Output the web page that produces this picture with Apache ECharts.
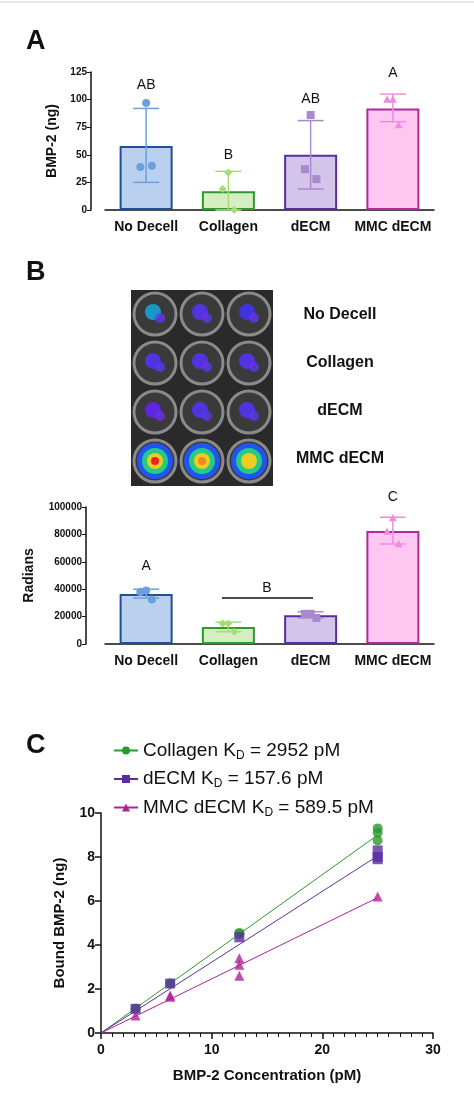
<!DOCTYPE html>
<html><head><meta charset="utf-8">
<script src="https://cdn.jsdelivr.net/npm/echarts@6/dist/echarts.min.js"></script>
<style>html,body{margin:0;background:#fff}#c{width:474px;height:1115px}</style>
</head><body><div id="c"></div>
<script>
const groups = ['No Decell', 'Collagen', 'dECM', 'MMC dECM'];
const fills = ['#b9d1ee', '#d6efc2', '#d3c4e9', '#fdc7f1'];
const borders = ['#1f4f9c', '#2d9a2d', '#5a2f9c', '#b02a9c'];
const dots = ['#6c9fdc', '#a6dc78', '#a98ace', '#f08ae0'];
const dotShapes = ['circle', 'diamond', 'rect', 'triangle'];

// panel A
const aMean = [58, 17, 50, 92];
const aLow = [25, 0, 19, 80];
const aHigh = [92, 35, 81, 105];
const aPts = [[97, 39, 40], [34, 19, 0], [86, 37, 28], [100, 100, 77]];
const aLetters = ['AB', 'B', 'AB', 'A'];
const aLetterY = [113, 50, 100, 124];

// panel B
const bMean = [36500, 12500, 21000, 82500];
const bLow = [33500, 9000, 19000, 73000];
const bHigh = [40000, 16000, 23500, 92500];
const bPts = [[39000, 38000, 32500], [15000, 15000, 9000], [22000, 22000, 19000], [92000, 82000, 73000]];
const bLetters = ['A', '', '', 'C'];
const bLetterY = [57000, 0, 0, 107000];

// point jitter (fraction of category width)
const jitter = [0, -0.07, 0.07];

// panel C
const conc = [3.125, 6.25, 12.5, 25];
const colC = [[1.1], [2.25], [4.55, 4.5], [9.3, 9.1, 8.75]];
const decmC = [[1.1], [2.25], [4.35], [8.3, 8.0, 7.9]];
const mmcC = [[0.8], [1.65, 1.7], [3.4, 3.1, 2.6], [6.2]];
const fitEnd = [9.0, 8.05, 6.15];
const cNames = ['Collagen', 'dECM', 'MMC dECM'];
const cKd = ['2952', '157.6', '589.5'];
const cColors = ['#2a9a2a', '#5b2ea0', '#b0209c'];
const cShapes = ['circle', 'rect', 'triangle'];

const F = 'Liberation Sans, Arial, sans-serif';

function barSet(ai, mean, low, high, pts, letters, letterY) {
  return [
    {
      type: 'bar', xAxisIndex: ai, yAxisIndex: ai, barWidth: 53, z: 2,
      data: mean.map((v, i) => ({ value: v, itemStyle: { color: fills[i], borderColor: borders[i], borderWidth: 2 } }))
    },
    {
      type: 'custom', xAxisIndex: ai, yAxisIndex: ai, z: 5, clip: false,
      data: mean.map((v, i) => [i, low[i], high[i]]),
      renderItem: (p, api) => {
        const i = api.value(0);
        const lo = api.coord([i, api.value(1)]), hi = api.coord([i, api.value(2)]);
        const w = api.size([1, 0])[0];
        const st = { stroke: dots[i], lineWidth: 1.5 };
        const kids = [
          { type: 'line', shape: { x1: lo[0], y1: lo[1], x2: hi[0], y2: hi[1] }, style: st },
          { type: 'line', shape: { x1: lo[0] - 13, y1: lo[1], x2: lo[0] + 13, y2: lo[1] }, style: st },
          { type: 'line', shape: { x1: hi[0] - 13, y1: hi[1], x2: hi[0] + 13, y2: hi[1] }, style: st }
        ];
        pts[i].forEach((v, k) => {
          const c = api.coord([i, v]);
          const x = c[0] + jitter[k] * w, y = c[1], r = 4;
          if (dotShapes[i] === 'circle') kids.push({ type: 'circle', shape: { cx: x, cy: y, r: r }, style: { fill: dots[i] } });
          else if (dotShapes[i] === 'rect') kids.push({ type: 'rect', shape: { x: x - r, y: y - r, width: 2 * r, height: 2 * r }, style: { fill: dots[i] } });
          else if (dotShapes[i] === 'diamond') kids.push({ type: 'polygon', shape: { points: [[x, y - r], [x + r, y], [x, y + r], [x - r, y]] }, style: { fill: dots[i] } });
          else kids.push({ type: 'polygon', shape: { points: [[x, y - r], [x + r, y + r * 0.8], [x - r, y + r * 0.8]] }, style: { fill: dots[i] } });
        });
        if (letters[i]) {
          const t = api.coord([i, letterY[i]]);
          kids.push({ type: 'text', x: t[0], y: t[1], style: { text: letters[i], fontFamily: F, fontSize: 14, fill: '#111', align: 'center', verticalAlign: 'middle' } });
        }
        return { type: 'group', children: kids };
      }
    }
  ];
}

function cSeries(idx, vals) {
  const pts = [];
  vals.forEach((arr, i) => arr.forEach(v => pts.push([conc[i], v])));
  return [
    {
      name: cNames[idx], type: 'line', xAxisIndex: 2, yAxisIndex: 2,
      data: [[0, 0], [25, fitEnd[idx]]], showSymbol: false, symbol: cShapes[idx], symbolSize: 9,
      lineStyle: { color: cColors[idx], width: 1 }, itemStyle: { color: cColors[idx] }, z: 3
    },
    {
      type: 'scatter', xAxisIndex: 2, yAxisIndex: 2, data: pts, symbol: cShapes[idx], symbolSize: 10,
      itemStyle: { color: cColors[idx] }, z: 4
    }
  ];
}

const catX = (ai) => ({
  type: 'category', gridIndex: ai, data: groups,
  axisLine: { lineStyle: { color: '#111', width: 1.5 } }, axisTick: { show: false },
  axisLabel: { interval: 0, fontFamily: F, fontWeight: 'bold', fontSize: 14, color: '#111', margin: 10 }
});
const valY = (ai, max, iv, name, off, gap) => ({
  type: 'value', gridIndex: ai, min: 0, max: max, interval: iv, offset: off,
  name: name, nameLocation: 'middle', nameGap: gap,
  nameTextStyle: { fontFamily: F, fontWeight: 'bold', fontSize: 14, color: '#111' },
  axisLine: { show: true, lineStyle: { color: '#111', width: 1.5 } },
  axisTick: { show: true, length: 4, lineStyle: { color: '#111' } },
  splitLine: { show: false },
  axisLabel: { fontFamily: F, fontWeight: 'bold', fontSize: 10, color: '#111', margin: 4, formatter: v => String(v) }
});

// well plate image (panel B)
const wellColors = [
  ['#1ad', '#53f', '#43f'], ['#53f', '#53f', '#53f'], ['#62f', '#53f', '#53f'], ['#e22', '#e82', '#ec2']
];
const plate = [{ type: 'rect', shape: { x: 131, y: 290, width: 142, height: 196 }, style: { fill: '#2a2a2a' } }];
for (let r = 0; r < 4; r++) for (let c = 0; c < 3; c++) {
  const cx = 155 + c * 47, cy = 314 + r * 49;
  plate.push({ type: 'circle', shape: { cx, cy, r: 21 }, style: { fill: '#3a3a3a', stroke: '#8a8a8a', lineWidth: 3 } });
  if (r === 3) {
    plate.push({ type: 'circle', shape: { cx, cy, r: 18 }, style: { fill: '#2255ee' } });
    plate.push({ type: 'circle', shape: { cx, cy, r: 13 }, style: { fill: '#22cc88' } });
    plate.push({ type: 'circle', shape: { cx, cy, r: 8 }, style: { fill: '#eecc22' } });
    plate.push({ type: 'circle', shape: { cx, cy, r: 4 }, style: { fill: wellColors[r][c] } });
  } else {
    plate.push({ type: 'circle', shape: { cx: cx - 2, cy: cy - 2, r: 8 }, style: { fill: wellColors[r][c], opacity: 0.85 } });
    plate.push({ type: 'circle', shape: { cx: cx + 5, cy: cy + 4, r: 5 }, style: { fill: '#6633ee', opacity: 0.8 } });
  }
}
const plateLabels = ['No Decell', 'Collagen', 'dECM', 'MMC dECM'].map((t, i) => ({
  type: 'text', x: 340, y: 315 + i * 48,
  style: { text: t, fontFamily: F, fontWeight: 'bold', fontSize: 16, fill: '#111', align: 'center', verticalAlign: 'middle' }
}));
const panelLetter = (t, y) => ({ type: 'text', x: 26, y: y, style: { text: t, fontFamily: F, fontWeight: 'bold', fontSize: 27, fill: '#111', verticalAlign: 'middle' } });

const chart = echarts.init(document.getElementById('c'));
chart.setOption({
  animation: false,
  grid: [
    { left: 105, top: 72, width: 329, height: 138 },
    { left: 105, top: 507, width: 329, height: 137 },
    { left: 101, top: 813, width: 332, height: 220 }
  ],
  xAxis: [catX(0), catX(1), {
    type: 'value', gridIndex: 2, min: 0, max: 30, interval: 10,
    name: 'BMP-2 Concentration (pM)', nameLocation: 'middle', nameGap: 35,
    nameTextStyle: { fontFamily: F, fontWeight: 'bold', fontSize: 15, color: '#111' },
    axisLine: { lineStyle: { color: '#111', width: 1.5 } },
    axisTick: { length: 6, lineStyle: { color: '#111', width: 1.5 } },
    minorTick: { show: true, splitNumber: 10, length: 4, lineStyle: { color: '#111' } },
    splitLine: { show: false },
    axisLabel: { fontFamily: F, fontWeight: 'bold', fontSize: 14, color: '#111', margin: 10 }
  }],
  yAxis: [
    valY(0, 125, 25, 'BMP-2 (ng)', 14, 32),
    valY(1, 100000, 20000, 'Radians', 19, 50),
    Object.assign(valY(2, 10, 2, 'Bound BMP-2 (ng)', 0, 34), {
      nameTextStyle: { fontFamily: F, fontWeight: 'bold', fontSize: 15, color: '#111' },
      axisLabel: { fontFamily: F, fontWeight: 'bold', fontSize: 14, color: '#111', margin: 6 },
      axisTick: { show: true, length: 6, lineStyle: { color: '#111', width: 1.5 } }
    })
  ],
  legend: {
    left: 108, top: 736, orient: 'vertical', itemGap: 8, itemWidth: 24, itemHeight: 10,
    data: cNames,
    formatter: n => {
      const i = cNames.indexOf(n);
      return n + ' K{s|D} = ' + cKd[i] + ' pM';
    },
    textStyle: { fontFamily: F, fontSize: 19, color: '#111', rich: { s: { fontFamily: F, fontSize: 12, verticalAlign: 'bottom', padding: [10, 0, 0, 0], color: '#111' } } }
  },
  graphic: [
    { type: 'line', shape: { x1: 0, y1: 2, x2: 474, y2: 2 }, style: { stroke: '#ccc', lineWidth: 1 } },
    panelLetter('A', 42), panelLetter('B', 273), panelLetter('C', 746),
    ...plate, ...plateLabels,
    { type: 'line', shape: { x1: 222, y1: 598, x2: 313, y2: 598 }, style: { stroke: '#111', lineWidth: 1.5 } },
    { type: 'text', x: 267, y: 588, style: { text: 'B', fontFamily: F, fontSize: 14, fill: '#111', align: 'center', verticalAlign: 'middle' } }
  ],
  series: [
    ...barSet(0, aMean, aLow, aHigh, aPts, aLetters, aLetterY),
    ...barSet(1, bMean, bLow, bHigh, bPts, bLetters, bLetterY),
    ...cSeries(0, colC), ...cSeries(1, decmC), ...cSeries(2, mmcC)
  ]
});
</script></body></html>
